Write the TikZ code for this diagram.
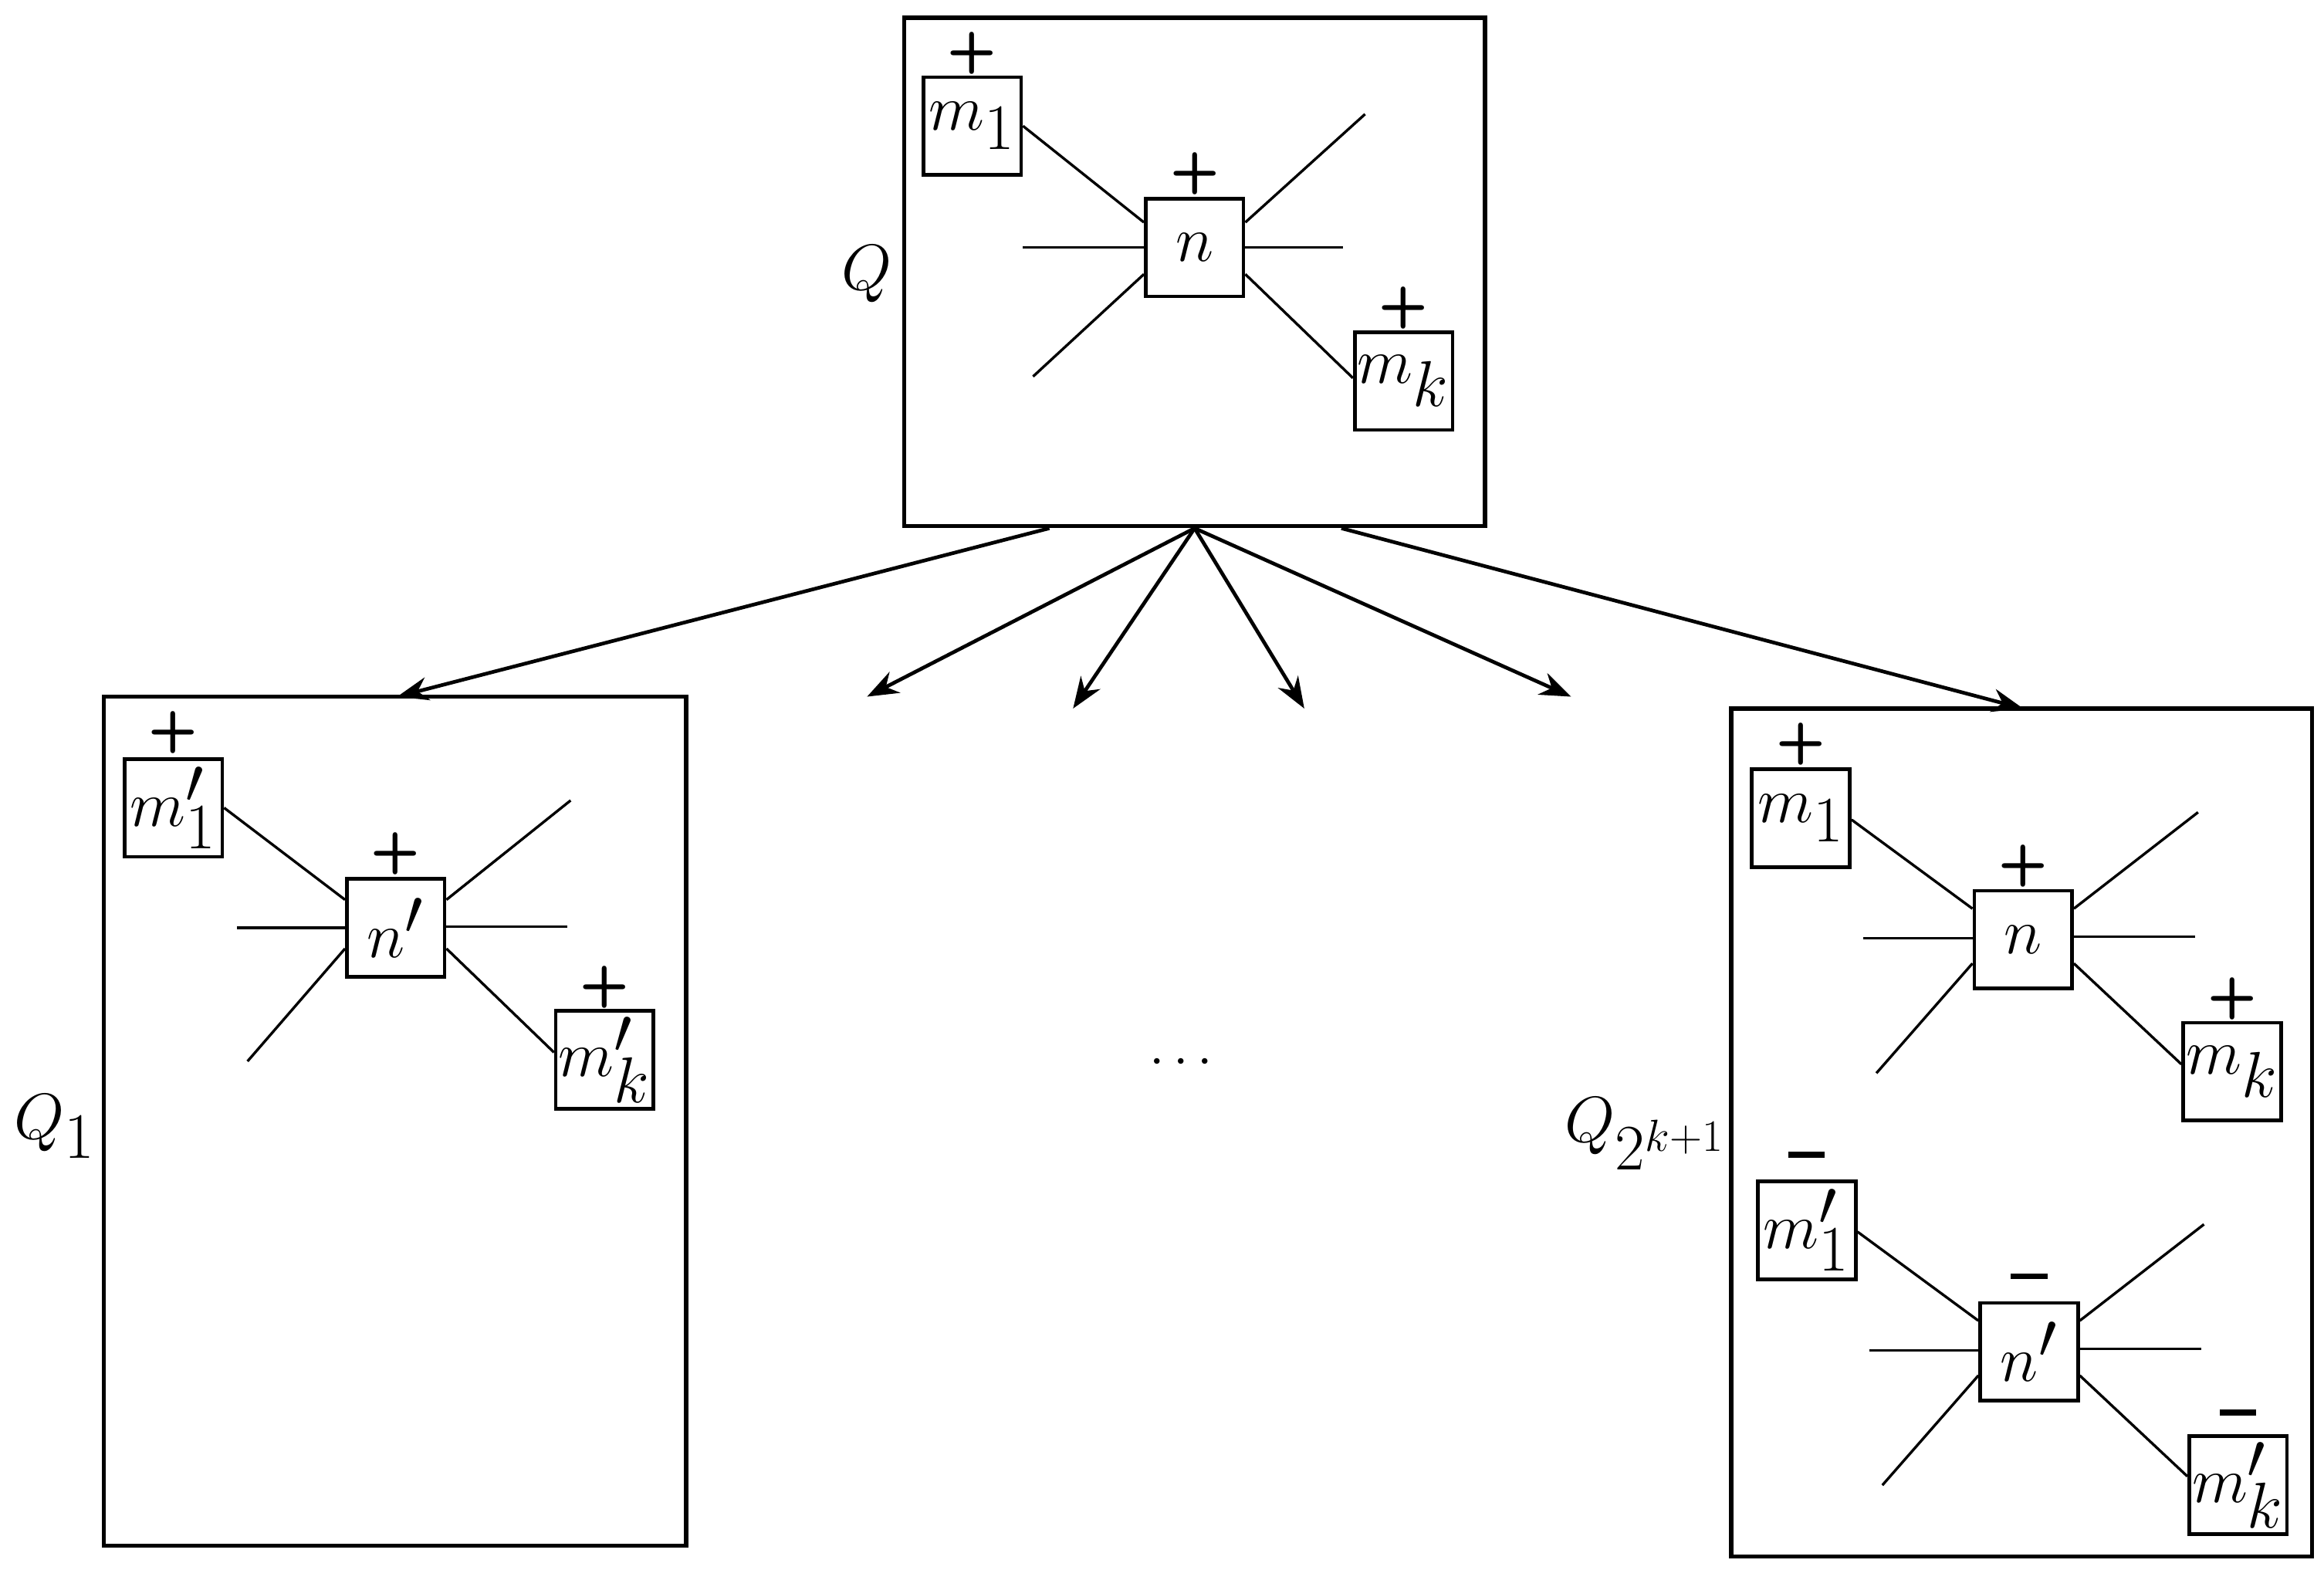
\documentclass[tikz,border=0pt]{standalone}
\usetikzlibrary{arrows.meta}
\begin{document}
\begin{tikzpicture}[x=0.02cm,y=-0.02cm,
  bx/.style={draw,line width=1.4pt,minimum width=1.32cm,minimum height=1.32cm,inner sep=0pt,font=\fontsize{33}{38}\selectfont},
  big/.style={draw,line width=1.6pt,inner sep=0pt},
  sg/.style={font=\fontsize{22}{26}\selectfont\sffamily\bfseries,inner sep=0pt},
  lb/.style={font=\fontsize{33}{38}\selectfont,inner sep=0pt},
  ln/.style={line width=1pt},
  ar/.style={line width=1.4pt,-{Stealth[length=12pt,width=9pt]}}]
\useasboundingbox (0,0) rectangle (1568,1059);
% Top
\node[big,minimum width=7.84cm,minimum height=6.86cm] (Q) at (806,183.5) {};
\node[lb] (lQ) at (585,185) {$Q$};
\node[bx] (m1) at (656,85) {$m_1$}; \node[sg] (p1) at (656,36) {+};
\node[bx] (n) at (806,167) {$n$}; \node[sg] (p2) at (806,117) {+};
\node[bx] (mk) at (947,257) {$m_k$}; \node[sg] (p3) at (947,208) {+};
\coordinate (a1) at (921,77); \coordinate (a2) at (690,167); \coordinate (a3) at (906,167); \coordinate (a4) at (697,254);
\draw[ln] (m1.east|-0,85) -- (n.west|-0,150);
\draw[ln] (n.east|-0,150) -- (a1);
\draw[ln] (a2) -- (n.west|-0,167); \draw[ln] (n.east|-0,167) -- (a3);
\draw[ln] (n.west|-0,185) -- (a4);
\draw[ln] (n.east|-0,185) -- (mk.west|-0,255);
% arrows
\coordinate (t1) at (268,470); \coordinate (t2) at (585,470); \coordinate (t3) at (724,478);
\coordinate (t4) at (880,478); \coordinate (t5) at (1060,470); \coordinate (t6) at (1365,478);
\draw[ar] (Q.south -| 708,0) -- (t1);
\draw[ar] (Q.south) -- (t2); \draw[ar] (Q.south) -- (t3); \draw[ar] (Q.south) -- (t4); \draw[ar] (Q.south) -- (t5);
\draw[ar] (Q.south -| 905,0) -- (t6);
% Q1
\node[big,minimum width=7.86cm,minimum height=11.46cm] (Q1) at (266.5,756.5) {};
\node[lb] (lQ1) at (37,760) {$Q_1$};
\node[bx] (b1) at (117,545) {$m_1'$}; \node[sg] (q1) at (117,494) {+};
\node[bx] (bn) at (267,626) {$n'$}; \node[sg] (q2) at (267,576) {+};
\node[bx] (bk) at (408,715) {$m_k'$}; \node[sg] (q3) at (408,666) {+};
\coordinate (c1) at (385,540); \coordinate (c2) at (160,626); \coordinate (c3) at (383,625); \coordinate (c4) at (167,716);
\draw[ln] (b1.east|-0,545) -- (bn.west|-0,607);
\draw[ln] (bn.east|-0,607) -- (c1);
\draw[ln] (c2) -- (bn.west|-0,626); \draw[ln] (bn.east|-0,625) -- (c3);
\draw[ln] (bn.west|-0,640) -- (c4);
\draw[ln] (bn.east|-0,640) -- (bk.west|-0,710);
\node[font=\fontsize{20}{24}\selectfont] (dots) at (797,717) {$\cdots$};
% Q2k+1
\node[big,minimum width=7.84cm,minimum height=11.44cm] (Q2) at (1364,764) {};
\node[lb] (lQ2) at (1110,765) {$Q_{2^{k+1}}$};
\node[bx] (d1) at (1215,552) {$m_1$}; \node[sg] (r1) at (1215,502) {+};
\node[bx] (dn) at (1365,634) {$n$}; \node[sg] (r2) at (1365,584) {+};
\node[bx] (dk) at (1506,723) {$m_k$}; \node[sg] (r3) at (1506,674) {+};
\coordinate (e1) at (1483,548); \coordinate (e2) at (1257,633); \coordinate (e3) at (1481,632); \coordinate (e4) at (1266,724);
\draw[ln] (d1.east|-0,553) -- (dn.west|-0,613);
\draw[ln] (dn.east|-0,613) -- (e1);
\draw[ln] (e2) -- (dn.west|-0,633); \draw[ln] (dn.east|-0,632) -- (e3);
\draw[ln] (dn.west|-0,650) -- (e4);
\draw[ln] (dn.east|-0,650) -- (dk.west|-0,718);
\node[bx] (f1) at (1219,830) {$m_1'$}; \node[sg] (s1) at (1219,779) {\rule{14pt}{2.2pt}};
\node[bx] (fn) at (1369,912) {$n'$}; \node[sg] (s2) at (1369,861) {\rule{14pt}{2.2pt}};
\node[bx] (fk) at (1510,1002) {$m_k'$}; \node[sg] (s3) at (1510,953) {\rule{14pt}{2.2pt}};
\coordinate (g1) at (1487,826); \coordinate (g2) at (1261,911); \coordinate (g3) at (1485,910); \coordinate (g4) at (1270,1002);
\draw[ln] (f1.east|-0,831) -- (fn.west|-0,891);
\draw[ln] (fn.east|-0,891) -- (g1);
\draw[ln] (g2) -- (fn.west|-0,911); \draw[ln] (fn.east|-0,910) -- (g3);
\draw[ln] (fn.west|-0,928) -- (g4);
\draw[ln] (fn.east|-0,928) -- (fk.west|-0,996);
\end{tikzpicture}
\end{document}
